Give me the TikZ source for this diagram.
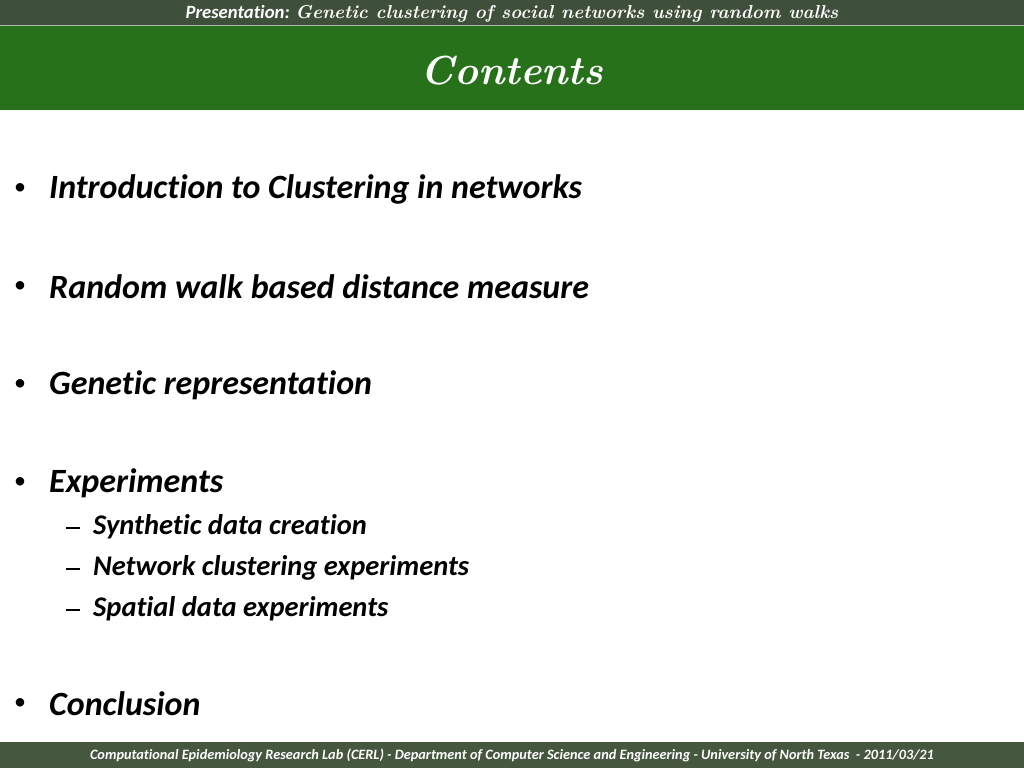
\documentclass[tikz,border=0pt]{standalone}
\usepackage{fontspec}
\setmainfont[Ligatures={NoCommon,NoRequired,NoContextual}]{Carlito}
\newfontfamily\ser{Latin Modern Roman}
\definecolor{topbar}{HTML}{3F503A}
\definecolor{grn}{HTML}{267119}
\definecolor{foot}{HTML}{46573F}
\begin{document}
\begin{tikzpicture}[x=1pt,y=1pt,
  item/.style={anchor=west,inner sep=0,font=\fontsize{34}{36}\selectfont\bfseries\itshape},
  sub/.style={anchor=west,inner sep=0,font=\fontsize{28.5}{30}\selectfont\bfseries\itshape},
  dsh/.style={anchor=center,inner sep=0},
  bul/.style={anchor=center,inner sep=0,font=\fontsize{24}{26}\selectfont}]
\useasboundingbox (0,0) rectangle (1024,768);
\fill[white] (0,0) rectangle (1024,768);
\fill[topbar] (0,743) rectangle (1024,768);
\fill[grn] (0,658) rectangle (1024,742);
\draw[white!60!topbar,line width=1] (0,742.5) -- (1024,742.5);
\fill[foot] (0,0) rectangle (1024,26);
\node[anchor=center,text=white,inner sep=0,font=\fontsize{18.7}{20}\selectfont\bfseries\itshape] (hdr) at (512,754) {Presentation: {\ser Genetic clustering of social networks using random walks}};
\node[anchor=center,text=white,inner sep=0,font=\fontsize{40.5}{42}\selectfont\ser\bfseries\itshape] (title) at (512,697) {Contents};
\node[bul] (b1) at (20,579) {•}; \node[item] (t1) at (49,579) {Introduction to Clustering in networks};
\node[bul] (b2) at (20,481) {•}; \node[item] (t2) at (49,481) {Random walk based distance measure};
\node[bul] (b3) at (20,383) {•}; \node[item] (t3) at (49,383) {Genetic representation};
\node[bul] (b4) at (20,285) {•}; \node[item] (t4) at (49,285) {Experiments};
\node[dsh] (d1) at (73,240) {\rule{14pt}{1.5pt}}; \node[sub] (s1) at (93,241) {Synthetic data creation};
\node[dsh] (d2) at (73,199) {\rule{14pt}{1.5pt}}; \node[sub] (s2) at (93,200) {Network clustering experiments};
\node[dsh] (d3) at (73,158) {\rule{14pt}{1.5pt}}; \node[sub] (s3) at (93,159) {Spatial data experiments};
\node[bul] (b5) at (20,64) {•}; \node[item] (t5) at (49,64) {Conclusion};
\node[anchor=center,text=white,inner sep=0,font=\fontsize{14.3}{16}\selectfont\bfseries\itshape] (ft) at (512,13) {Computational Epidemiology Research Lab (CERL) - Department of Computer Science and Engineering - University of North Texas\ \ - 2011/03/21};
\end{tikzpicture}
\end{document}
